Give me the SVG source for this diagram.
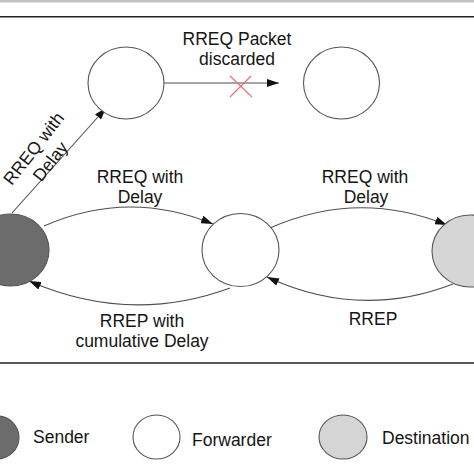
<svg xmlns="http://www.w3.org/2000/svg" width="474" height="474" viewBox="0 0 474 474">
<defs>
<style>
.lbl{font-family:"Liberation Sans",Arial,sans-serif;font-size:17.5px;fill:#151515;}
.mid{text-anchor:middle;}
.edge{fill:none;stroke:#505050;stroke-width:1.1;}
.node{stroke:#555;stroke-width:1.1;}
.sep{stroke:#222;stroke-width:1.6;}
</style>
<marker id="ah" viewBox="0 0 12 8" refX="12" refY="4" markerWidth="12" markerHeight="8" markerUnits="userSpaceOnUse" orient="auto">
<path d="M0,0 L12,4 L0,8 Z" fill="#111"/>
</marker>
</defs>
<rect width="474" height="474" fill="#fff"/>
<rect x="0" y="0" width="474" height="2.5" fill="#c2c2c2"/>
<line class="sep" x1="0" y1="16.8" x2="474" y2="16.8"/>
<line class="sep" x1="0" y1="363" x2="474" y2="363"/>

<g id="connectors">
<line class="edge" x1="12" y1="213" x2="106" y2="108" marker-end="url(#ah)"/>
<line class="edge" x1="164" y1="83" x2="279" y2="83" marker-end="url(#ah)"/>
<path class="edge" d="M44,226 Q128,189 213,224" marker-end="url(#ah)"/>
<path class="edge" d="M270,228 Q358,189 447,225" marker-end="url(#ah)"/>
<path class="edge" d="M230,288 Q130,325 29,281" marker-end="url(#ah)"/>
<path class="edge" d="M453,284 Q360,320 267,277" marker-end="url(#ah)"/>
<g id="discard-mark" stroke="#e0707c" stroke-width="1.1">
<line x1="230" y1="76" x2="252" y2="97"/>
<line x1="251" y1="76" x2="230" y2="97"/>
</g>
<text class="lbl mid" x="237" y="45">RREQ Packet</text>
<text class="lbl mid" x="237" y="65">discarded</text>
<g transform="translate(42,155) rotate(-52)">
<text class="lbl mid" x="0" y="-4.5">RREQ with</text>
<text class="lbl mid" x="0" y="16.5">Delay</text>
</g>
<text class="lbl mid" x="140" y="183">RREQ with</text>
<text class="lbl mid" x="140" y="203">Delay</text>
<text class="lbl mid" x="365" y="183">RREQ with</text>
<text class="lbl mid" x="366" y="203">Delay</text>
<text class="lbl mid" x="142" y="327">RREP with</text>
<text class="lbl mid" x="142" y="347">cumulative Delay</text>
<text class="lbl mid" x="373" y="325">RREP</text>
</g>

<g id="node-top-forwarder"><ellipse class="node" cx="126" cy="83" rx="38" ry="36" fill="#fff"/></g>
<g id="node-top-right"><ellipse class="node" cx="341.5" cy="83" rx="38" ry="36" fill="#fff"/></g>
<g id="node-sender"><ellipse class="node" cx="11" cy="250" rx="38" ry="36" fill="#6c6c6c" stroke="#444"/></g>
<g id="node-forwarder"><ellipse class="node" cx="240.5" cy="250" rx="38.5" ry="36.5" fill="#fff"/></g>
<g id="node-destination"><ellipse class="node" cx="470" cy="251" rx="38" ry="36" fill="#d5d5d5" stroke="#666"/></g>

<g id="legend">
<g id="legend-sender">
<ellipse class="node" cx="-3" cy="437.5" rx="22" ry="21.5" fill="#6c6c6c" stroke="#444"/>
<text class="lbl" x="33" y="443">Sender</text>
</g>
<g id="legend-forwarder">
<ellipse class="node" cx="156.5" cy="437" rx="23.5" ry="22" fill="#fff"/>
<text class="lbl" x="192" y="446">Forwarder</text>
</g>
<g id="legend-destination">
<ellipse class="node" cx="343" cy="437" rx="24" ry="22" fill="#d5d5d5" stroke="#666"/>
<text class="lbl" x="382" y="444">Destination</text>
</g>
</g>
</svg>
